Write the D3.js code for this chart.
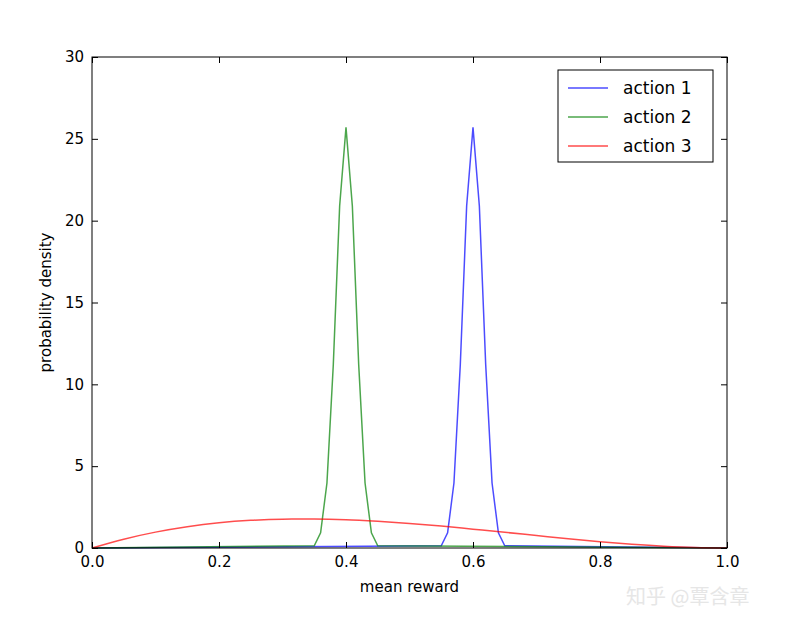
<!DOCTYPE html>
<html><head><meta charset="utf-8">
<script src="https://cdn.jsdelivr.net/npm/d3@7"></script>
<style>body{margin:0;background:#fff;font-family:"DejaVu Sans",sans-serif;}</style>
</head><body>
<script>
// action 1 / 2 densities, sampled around their peaks
var peakX1 = [0, 0.55, 0.56, 0.57, 0.58, 0.59, 0.60, 0.61, 0.62, 0.63, 0.64, 0.65, 1];
var peakX2 = [0, 0.35, 0.36, 0.37, 0.38, 0.39, 0.40, 0.41, 0.42, 0.43, 0.44, 0.45, 1];
var peakY = [0, 0.14, 0.93, 3.97, 11.2, 20.9, 25.7, 20.9, 11.2, 3.97, 0.93, 0.14, 0];
// action 3 density
var wideX = [0, 0.05, 0.1, 0.15, 0.2, 0.25, 0.3, 0.35, 0.4, 0.45, 0.5, 0.55, 0.6, 0.65, 0.7, 0.75, 0.8, 0.85, 0.9, 0.95, 1];
var wideY = [0, 0.54, 0.97, 1.30, 1.54, 1.69, 1.76, 1.77, 1.73, 1.63, 1.5, 1.34, 1.15, 0.96, 0.76, 0.56, 0.38, 0.23, 0.11, 0.03, 0];
var names = ["action 1", "action 2", "action 3"];
var colors = ["#0000ff", "#008000", "#ff0000"];
var xTicks = [0, 0.2, 0.4, 0.6, 0.8, 1.0];
var yTicks = [0, 5, 10, 15, 20, 25, 30];

var series = [
  d3.zip(peakX1, peakY),
  d3.zip(peakX2, peakY),
  d3.zip(wideX, wideY)
];

var L = 92, R = 727, T = 57, B = 548;
var svg = d3.select("body").append("svg").attr("width", 794).attr("height", 628);
var x = d3.scaleLinear().domain([0, 1]).range([L, R]);
var y = d3.scaleLinear().domain([0, 30]).range([B, T]);

var line = d3.line().x(function (d) { return x(d[0]); }).y(function (d) { return y(d[1]); });
series.forEach(function (s, i) {
  svg.append("path").attr("d", line.curve(i == 2 ? d3.curveMonotoneX : d3.curveLinear)(s))
    .attr("fill", "none").attr("stroke", colors[i]).attr("stroke-opacity", 0.7).attr("stroke-width", 1.5);
});

function fmt(d) { return d.toFixed(1); }
svg.append("g").attr("transform", "translate(0," + B + ")")
  .call(d3.axisBottom(x).tickValues(xTicks).tickFormat(fmt).tickSizeInner(-6).tickSizeOuter(0).tickPadding(8));
svg.append("g").attr("transform", "translate(0," + T + ")")
  .call(d3.axisTop(x).tickValues(xTicks).tickFormat("").tickSizeInner(-6).tickSizeOuter(0));
svg.append("g").attr("transform", "translate(" + L + ",0)")
  .call(d3.axisLeft(y).tickValues(yTicks).tickSizeInner(-6).tickSizeOuter(0).tickPadding(8));
svg.append("g").attr("transform", "translate(" + R + ",0)")
  .call(d3.axisRight(y).tickValues(yTicks).tickFormat("").tickSizeInner(-6).tickSizeOuter(0));
svg.selectAll(".tick text").attr("font-size", 15).attr("font-family", "DejaVu Sans").attr("fill", "#000");
svg.selectAll(".domain").remove();
svg.append("rect").attr("x", L).attr("y", T).attr("width", R - L).attr("height", B - T)
  .attr("fill", "none").attr("stroke", "#000");

svg.append("text").attr("x", (L + R) / 2).attr("y", 592).attr("text-anchor", "middle")
  .attr("font-size", 15).text("mean reward");
svg.append("text").attr("transform", "translate(51," + (T + B) / 2 + ") rotate(-90)")
  .attr("text-anchor", "middle").attr("font-size", 15).text("probability density");

var lg = svg.append("g").attr("transform", "translate(558,70)");
lg.append("rect").attr("width", 155).attr("height", 92).attr("fill", "#fff").attr("stroke", "#000");
names.forEach(function (n, i) {
  var yy = 18 + i * 29;
  lg.append("line").attr("x1", 10).attr("x2", 50).attr("y1", yy).attr("y2", yy)
    .attr("stroke", colors[i]).attr("stroke-opacity", 0.7).attr("stroke-width", 1.5);
  lg.append("text").attr("x", 65).attr("y", yy + 6).attr("font-size", 17).text(n);
});

svg.append("text").attr("x", 626).attr("y", 604).attr("font-size", 20)
  .attr("font-family", "Noto Sans CJK SC").attr("fill", "#e6e6e6").text("知乎 @覃含章");
</script>
</body></html>
